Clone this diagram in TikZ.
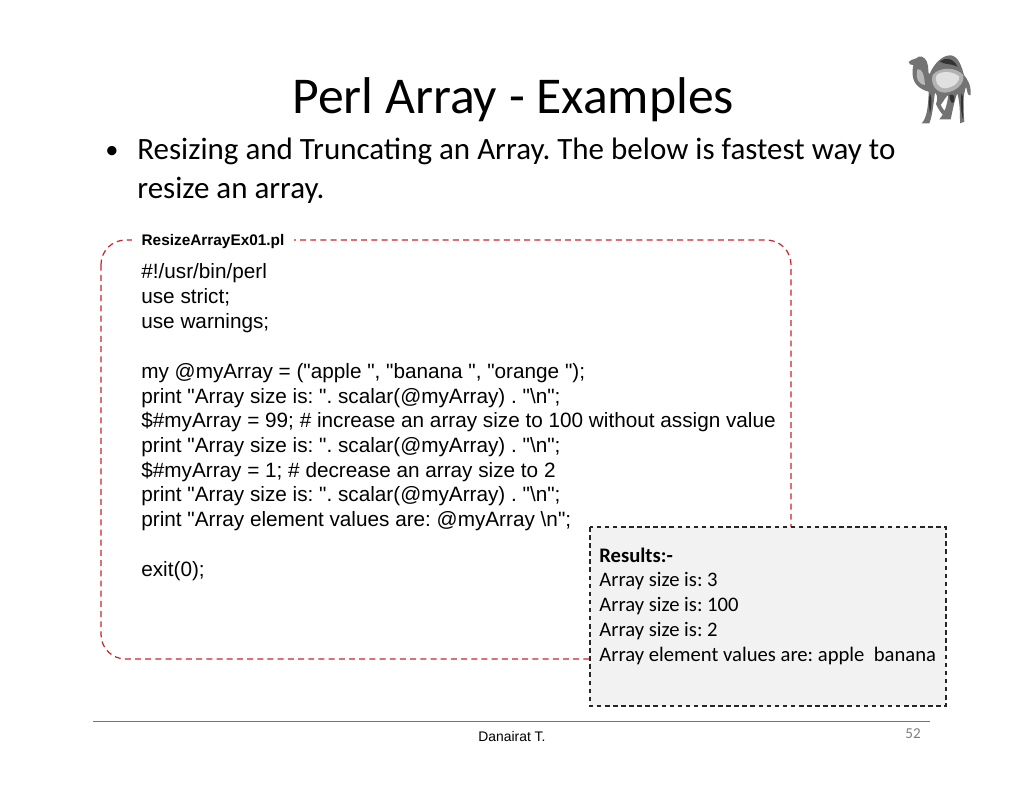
\documentclass[tikz,border=0pt]{standalone}
\usepackage{fontspec}
\setmainfont{Carlito}
\newfontfamily\codefont{Liberation Sans}
\definecolor{framered}{HTML}{C8252F}
\definecolor{boxgray}{HTML}{F2F2F2}
\tikzset{
  titletext/.style={anchor=base west,inner sep=0pt,font=\fontsize{29.4}{32}\selectfont},
  bullettext/.style={anchor=base west,inner sep=0pt,font=\fontsize{17.65}{20}\selectfont},
  codeline/.style={anchor=base west,inner sep=0pt,font=\codefont\fontsize{11.8}{14}\selectfont},
  resultline/.style={anchor=base west,inner sep=0pt,font=\fontsize{11.75}{14}\selectfont},
  camelpart/.style={draw=none,line join=round}
}
\begin{document}
\frenchspacing
\begin{tikzpicture}[x=0.02cm,y=-0.02cm]
  \useasboundingbox (0,0) rectangle (1024,792);
  \fill[white] (0,0) rectangle (1024,792);
  % heading
  \node[titletext] (title) at (292,113) {Perl Array - Examples};
  \node[bullettext,font=\fontsize{15}{20}\selectfont] (dot) at (105,158) {•};
  \node[bullettext] (bulletone) at (137,159) {Resizing and Truncating an Array. The below is fastest way to};
  \node[bullettext] (bullettwo) at (137,198) {resize an array.};
  % camel
  \begin{scope}[shift={(880,30)},x=0.00667cm,y=-0.00667cm]
    \fill[camelpart,black!55] (86,96) .. controls (95,86) and (110,88) .. (116,80)
      .. controls (128,76) and (142,88) .. (144,108) .. controls (146,125) and (144,135) .. (150,130)
      .. controls (160,105) and (185,75) .. (212,76) .. controls (235,78) and (245,110) .. (252,135)
      .. controls (262,148) and (274,165) .. (272,195) .. controls (262,202) and (262,180) .. (258,170)
      .. controls (250,195) and (248,215) .. (253,275) -- (240,280) .. controls (240,250) and (240,220) .. (232,190)
      .. controls (225,205) and (218,240) .. (212,268) -- (178,268) .. controls (190,255) and (200,235) .. (205,195)
      .. controls (198,198) and (190,215) .. (182,225) .. controls (190,240) and (200,250) .. (208,262)
      -- (200,268) .. controls (188,255) and (172,235) .. (168,222) .. controls (175,205) and (172,195) .. (165,188)
      .. controls (160,220) and (158,255) .. (148,280) -- (125,280) .. controls (140,265) and (145,230) .. (146,185)
      .. controls (125,180) and (100,165) .. (98,135) .. controls (96,120) and (100,110) .. (100,105)
      .. controls (95,105) and (85,104) .. (86,96) -- cycle;
    \fill[camelpart,black!30] (158,135) .. controls (180,108) and (230,112) .. (250,135)
      .. controls (255,160) and (228,186) .. (195,188) .. controls (168,188) and (150,162) .. (158,135) -- cycle;
    \fill[camelpart,black!12] (170,135) .. controls (188,120) and (222,125) .. (238,140)
      .. controls (240,155) and (222,172) .. (196,175) .. controls (175,175) and (162,155) .. (170,135) -- cycle;
    \fill[camelpart,black!28] (112,118) .. controls (125,115) and (132,130) .. (135,165)
      .. controls (120,165) and (105,150) .. (112,118) -- cycle;
    \fill[camelpart,black!80] (180,95) .. controls (195,80) and (222,85) .. (232,110)
      .. controls (215,100) and (195,105) .. (180,95) -- cycle;
    \fill[camelpart,black!80] (150,190) .. controls (156,200) and (156,225) .. (150,250)
      .. controls (146,225) and (146,205) .. (150,190) -- cycle;
    \fill[camelpart,black!80] (208,195) .. controls (222,190) and (225,200) .. (222,215)
      .. controls (215,225) and (210,215) .. (208,195) -- cycle;
    \fill[camelpart,black!80] (245,190) .. controls (252,200) and (250,240) .. (248,268)
      .. controls (242,240) and (240,210) .. (245,190) -- cycle;
  \end{scope}
  % listing frame
  \draw[framered,line width=0.7pt,dash pattern=on 3.4pt off 2.4pt,rounded corners=14pt]
    (101,240) rectangle (791,659);
  \node[fill=white,anchor=base,inner xsep=5.3pt,inner ysep=3pt,font=\codefont\bfseries\fontsize{8.75}{10}\selectfont]
    (filename) at (213,245) {ResizeArrayEx01.pl};
  \node[codeline] (lineone) at (141,278) {\#!/usr/bin/perl};
  \node[codeline] (linetwo) at (141,303) {use strict;};
  \node[codeline] (linethree) at (141,328) {use warnings;};
  \node[codeline] (linefour) at (141,378) {my @myArray = ("apple ", "banana ", "orange ");};
  \node[codeline] (linefive) at (141,403) {print "Array size is: ". scalar(@myArray) . "\textbackslash n";};
  \node[codeline] (linesix) at (141,427) {\$\#myArray = 99; \# increase an array size to 100 without assign value};
  \node[codeline] (lineseven) at (141,452) {print "Array size is: ". scalar(@myArray) . "\textbackslash n";};
  \node[codeline] (lineeight) at (141,477) {\$\#myArray = 1; \# decrease an array size to 2};
  \node[codeline] (linenine) at (141,501) {print "Array size is: ". scalar(@myArray) . "\textbackslash n";};
  \node[codeline] (lineten) at (141,526) {print "Array element values are: @myArray \textbackslash n";};
  \node[codeline] (lineeleven) at (141,576) {exit(0);};
  % results box
  \draw[black!85,fill=boxgray,line width=0.7pt,dash pattern=on 2.6pt off 2pt]
    (590,527) rectangle (946,706);
  \node[resultline,font=\bfseries\fontsize{11.75}{14}\selectfont] (reshead) at (599,562) {Results:-};
  \node[resultline] (resone) at (599,586) {Array size is: 3};
  \node[resultline] (restwo) at (599,611) {Array size is: 100};
  \node[resultline] (resthree) at (599,636) {Array size is: 2};
  \node[resultline] (resfour) at (599,661) {Array element values are: apple\ \ banana};
  % footer
  \draw[black!55,line width=0.5pt] (93,721) -- (930,721);
  \node[anchor=base,inner sep=0pt,font=\codefont\fontsize{7.9}{9}\selectfont] (author) at (512,741) {Danairat T.};
  \node[anchor=base,inner sep=0pt,text=black!50,font=\fontsize{8.6}{10}\selectfont] (pagenum) at (913,738) {52};
\end{tikzpicture}
\end{document}
